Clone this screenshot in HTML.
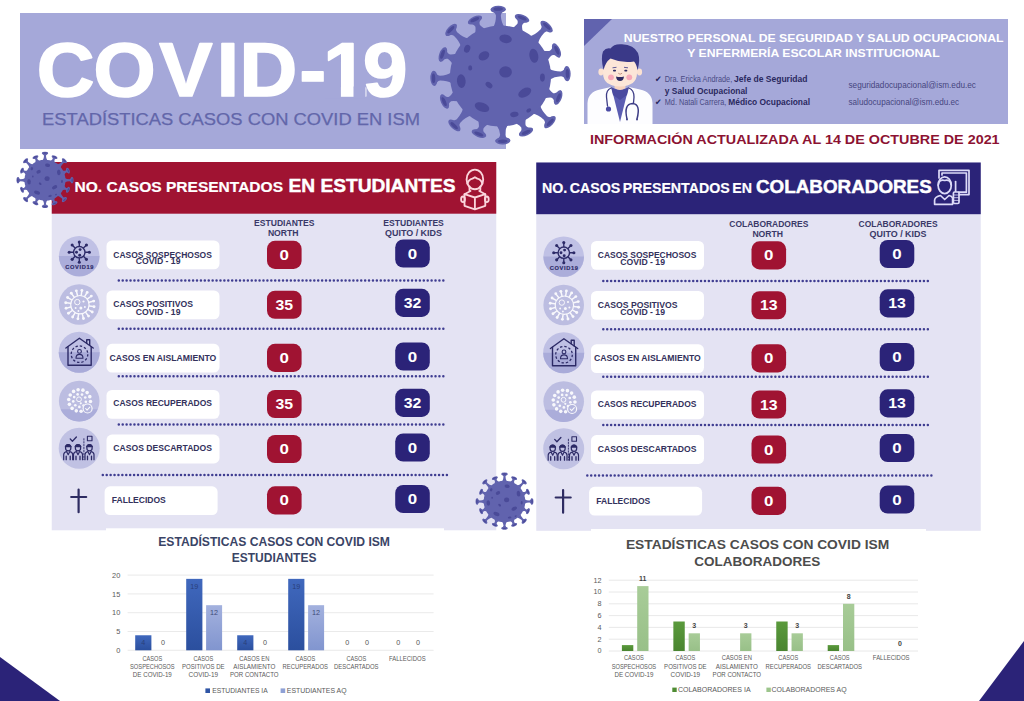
<!DOCTYPE html>
<html lang="es"><head><meta charset="utf-8"><title>COVID-19 Estadísticas casos con COVID en ISM</title>
<style>html,body{margin:0;padding:0;background:#fff;}body{width:1024px;height:701px;overflow:hidden;}svg{display:block;}</style>
</head><body>
<svg width="1024" height="701" viewBox="0 0 1024 701" font-family="'Liberation Sans', sans-serif">
<rect width="1024" height="701" fill="#fff"/>
<rect x="20" y="13" width="486" height="136" fill="#a5a8d9"/>
<g transform="scale(1.06,1)"><text x="34.66 88.15 150.32 204.60 225.86 282.55 304.85 342.40" y="96.5" font-size="75.4" font-weight="bold" fill="#fff" stroke="#fff" stroke-width="1.7" stroke-linejoin="round">COVID-19</text></g>
<rect x="324.5" y="86.6" width="16.4" height="12" fill="#a5a8d9"/><rect x="353.5" y="86.6" width="12" height="12" fill="#a5a8d9"/>
<text x="42.10" y="125.20" font-size="16.86" font-weight="normal" fill="#6266aa" textLength="377.90" lengthAdjust="spacingAndGlyphs" stroke="#6266aa" stroke-width="0.25">ESTADÍSTICAS CASOS CON COVID EN ISM</text>
<g transform="translate(500.50,76.00) rotate(0.0) scale(1.0100)"><g transform="rotate(-2.0)"><path d="M-5.5,-48.5 Q-2.6,-53 -2.4,-59.9 Q-3,-63.4 -7.6,-65.9 L7.6,-65.9 Q3,-63.4 2.4,-59.9 Q2.6,-53 5.5,-48.5 Z" fill="#6163ae"/><ellipse cx="0" cy="-65.9" rx="7.6" ry="3.6" fill="#6163ae"/><ellipse cx="0" cy="-66.3" rx="4.7" ry="1.7" fill="#4a4a98"/></g><g transform="rotate(20.5)"><path d="M-5.5,-48.5 Q-2.6,-53 -2.4,-54.9 Q-3,-58.4 -7.6,-60.9 L7.6,-60.9 Q3,-58.4 2.4,-54.9 Q2.6,-53 5.5,-48.5 Z" fill="#6163ae"/><ellipse cx="0" cy="-60.9" rx="7.6" ry="3.6" fill="#6163ae"/><ellipse cx="0" cy="-61.3" rx="4.7" ry="1.7" fill="#4a4a98"/></g><g transform="rotate(43.0)"><path d="M-5.5,-48.5 Q-2.6,-53 -2.4,-60.9 Q-3,-64.4 -7.6,-66.9 L7.6,-66.9 Q3,-64.4 2.4,-60.9 Q2.6,-53 5.5,-48.5 Z" fill="#6163ae"/><ellipse cx="0" cy="-66.9" rx="7.6" ry="3.6" fill="#6163ae"/><ellipse cx="0" cy="-67.3" rx="4.7" ry="1.7" fill="#4a4a98"/></g><g transform="rotate(65.5)"><path d="M-5.5,-48.5 Q-2.6,-53 -2.4,-54.9 Q-3,-58.4 -7.6,-60.9 L7.6,-60.9 Q3,-58.4 2.4,-54.9 Q2.6,-53 5.5,-48.5 Z" fill="#6163ae"/><ellipse cx="0" cy="-60.9" rx="7.6" ry="3.6" fill="#6163ae"/><ellipse cx="0" cy="-61.3" rx="4.7" ry="1.7" fill="#4a4a98"/></g><g transform="rotate(88.0)"><path d="M-5.5,-48.5 Q-2.6,-53 -2.4,-59.9 Q-3,-63.4 -7.6,-65.9 L7.6,-65.9 Q3,-63.4 2.4,-59.9 Q2.6,-53 5.5,-48.5 Z" fill="#6163ae"/><ellipse cx="0" cy="-65.9" rx="7.6" ry="3.6" fill="#6163ae"/><ellipse cx="0" cy="-66.3" rx="4.7" ry="1.7" fill="#4a4a98"/></g><g transform="rotate(110.5)"><path d="M-5.5,-48.5 Q-2.6,-53 -2.4,-54.9 Q-3,-58.4 -7.6,-60.9 L7.6,-60.9 Q3,-58.4 2.4,-54.9 Q2.6,-53 5.5,-48.5 Z" fill="#6163ae"/><ellipse cx="0" cy="-60.9" rx="7.6" ry="3.6" fill="#6163ae"/><ellipse cx="0" cy="-61.3" rx="4.7" ry="1.7" fill="#4a4a98"/></g><g transform="rotate(133.0)"><path d="M-5.5,-48.5 Q-2.6,-53 -2.4,-60.9 Q-3,-64.4 -7.6,-66.9 L7.6,-66.9 Q3,-64.4 2.4,-60.9 Q2.6,-53 5.5,-48.5 Z" fill="#6163ae"/><ellipse cx="0" cy="-66.9" rx="7.6" ry="3.6" fill="#6163ae"/><ellipse cx="0" cy="-67.3" rx="4.7" ry="1.7" fill="#4a4a98"/></g><g transform="rotate(155.5)"><path d="M-5.5,-48.5 Q-2.6,-53 -2.4,-54.9 Q-3,-58.4 -7.6,-60.9 L7.6,-60.9 Q3,-58.4 2.4,-54.9 Q2.6,-53 5.5,-48.5 Z" fill="#6163ae"/><ellipse cx="0" cy="-60.9" rx="7.6" ry="3.6" fill="#6163ae"/><ellipse cx="0" cy="-61.3" rx="4.7" ry="1.7" fill="#4a4a98"/></g><g transform="rotate(178.0)"><path d="M-5.5,-48.5 Q-2.6,-53 -2.4,-58.2 Q-3,-61.7 -7.6,-64.2 L7.6,-64.2 Q3,-61.7 2.4,-58.2 Q2.6,-53 5.5,-48.5 Z" fill="#6163ae"/><ellipse cx="0" cy="-64.2" rx="7.6" ry="3.6" fill="#6163ae"/><ellipse cx="0" cy="-64.6" rx="4.7" ry="1.7" fill="#4a4a98"/></g><g transform="rotate(200.5)"><path d="M-5.5,-48.5 Q-2.6,-53 -2.4,-54.9 Q-3,-58.4 -7.6,-60.9 L7.6,-60.9 Q3,-58.4 2.4,-54.9 Q2.6,-53 5.5,-48.5 Z" fill="#6163ae"/><ellipse cx="0" cy="-60.9" rx="7.6" ry="3.6" fill="#6163ae"/><ellipse cx="0" cy="-61.3" rx="4.7" ry="1.7" fill="#4a4a98"/></g><g transform="rotate(223.0)"><path d="M-5.5,-48.5 Q-2.6,-53 -2.4,-60.9 Q-3,-64.4 -7.6,-66.9 L7.6,-66.9 Q3,-64.4 2.4,-60.9 Q2.6,-53 5.5,-48.5 Z" fill="#6163ae"/><ellipse cx="0" cy="-66.9" rx="7.6" ry="3.6" fill="#6163ae"/><ellipse cx="0" cy="-67.3" rx="4.7" ry="1.7" fill="#4a4a98"/></g><g transform="rotate(245.5)"><path d="M-5.5,-48.5 Q-2.6,-53 -2.4,-54.9 Q-3,-58.4 -7.6,-60.9 L7.6,-60.9 Q3,-58.4 2.4,-54.9 Q2.6,-53 5.5,-48.5 Z" fill="#6163ae"/><ellipse cx="0" cy="-60.9" rx="7.6" ry="3.6" fill="#6163ae"/><ellipse cx="0" cy="-61.3" rx="4.7" ry="1.7" fill="#4a4a98"/></g><g transform="rotate(268.0)"><path d="M-5.5,-48.5 Q-2.6,-53 -2.4,-59.9 Q-3,-63.4 -7.6,-65.9 L7.6,-65.9 Q3,-63.4 2.4,-59.9 Q2.6,-53 5.5,-48.5 Z" fill="#6163ae"/><ellipse cx="0" cy="-65.9" rx="7.6" ry="3.6" fill="#6163ae"/><ellipse cx="0" cy="-66.3" rx="4.7" ry="1.7" fill="#4a4a98"/></g><g transform="rotate(290.5)"><path d="M-5.5,-48.5 Q-2.6,-53 -2.4,-54.9 Q-3,-58.4 -7.6,-60.9 L7.6,-60.9 Q3,-58.4 2.4,-54.9 Q2.6,-53 5.5,-48.5 Z" fill="#6163ae"/><ellipse cx="0" cy="-60.9" rx="7.6" ry="3.6" fill="#6163ae"/><ellipse cx="0" cy="-61.3" rx="4.7" ry="1.7" fill="#4a4a98"/></g><g transform="rotate(313.0)"><path d="M-5.5,-48.5 Q-2.6,-53 -2.4,-60.9 Q-3,-64.4 -7.6,-66.9 L7.6,-66.9 Q3,-64.4 2.4,-60.9 Q2.6,-53 5.5,-48.5 Z" fill="#6163ae"/><ellipse cx="0" cy="-66.9" rx="7.6" ry="3.6" fill="#6163ae"/><ellipse cx="0" cy="-67.3" rx="4.7" ry="1.7" fill="#4a4a98"/></g><g transform="rotate(335.5)"><path d="M-5.5,-48.5 Q-2.6,-53 -2.4,-54.9 Q-3,-58.4 -7.6,-60.9 L7.6,-60.9 Q3,-58.4 2.4,-54.9 Q2.6,-53 5.5,-48.5 Z" fill="#6163ae"/><ellipse cx="0" cy="-60.9" rx="7.6" ry="3.6" fill="#6163ae"/><ellipse cx="0" cy="-61.3" rx="4.7" ry="1.7" fill="#4a4a98"/></g><circle r="50" fill="#6163ae"/><ellipse cx="5" cy="-36.8" rx="6.2" ry="4.2" fill="#4a4a98" transform="rotate(10 5 -36.8)"/><ellipse cx="-16.4" cy="-20" rx="5.6" ry="4.2" fill="#4a4a98" transform="rotate(-30 -16.4 -20)"/><ellipse cx="-33" cy="-27" rx="3" ry="4" fill="#4a4a98" transform="rotate(20 -33 -27)"/><ellipse cx="33" cy="-20" rx="4.4" ry="7" fill="#4a4a98" transform="rotate(-10 33 -20)"/><ellipse cx="5" cy="-4" rx="6.3" ry="5.6" fill="#4a4a98" transform="rotate(0 5 -4)"/><ellipse cx="-38.8" cy="5" rx="4.3" ry="6.8" fill="#4a4a98" transform="rotate(-5 -38.8 5)"/><ellipse cx="-11.4" cy="9" rx="3.8" ry="2.6" fill="#4a4a98" transform="rotate(40 -11.4 9)"/><ellipse cx="41.5" cy="1.6" rx="2.4" ry="4" fill="#4a4a98" transform="rotate(0 41.5 1.6)"/><ellipse cx="24" cy="16.4" rx="7" ry="4.2" fill="#4a4a98" transform="rotate(-30 24 16.4)"/><ellipse cx="-18.3" cy="30.8" rx="7.5" ry="4.4" fill="#4a4a98" transform="rotate(20 -18.3 30.8)"/><ellipse cx="13.7" cy="38" rx="4.2" ry="2.6" fill="#4a4a98" transform="rotate(-10 13.7 38)"/><ellipse cx="-30" cy="-8" rx="2" ry="2.6" fill="#4a4a98" transform="rotate(0 -30 -8)"/><ellipse cx="28" cy="34" rx="2.6" ry="1.8" fill="#4a4a98" transform="rotate(-30 28 34)"/></g>
<rect x="584" y="19" width="424" height="105" fill="#a5a8d9"/>
<path d="M584,19 L612,19 L584,46 Z" fill="#6163ae"/>
<text x="623.80" y="41.60" font-size="11.48" font-weight="bold" fill="#fff" textLength="379.70" lengthAdjust="spacingAndGlyphs" >NUESTRO PERSONAL DE SEGURIDAD Y SALUD OCUPACIONAL</text>
<text x="687.30" y="57.20" font-size="11.48" font-weight="bold" fill="#fff" textLength="252.30" lengthAdjust="spacingAndGlyphs" >Y ENFERMERÍA ESCOLAR INSTITUCIONAL</text>
<text x="655.00" y="82.00" font-size="8.43" font-weight="normal" fill="#2a2960" textLength="6.50" lengthAdjust="spacingAndGlyphs" font-family="'DejaVu Sans', sans-serif">✔</text>
<text x="664.80" y="82.00" font-size="8.43" font-weight="normal" fill="#4a4b84" textLength="67.40" lengthAdjust="spacingAndGlyphs" >Dra. Ericka Andrade,</text>
<text x="734.10" y="82.00" font-size="8.43" font-weight="bold" fill="#2a2960" textLength="73.30" lengthAdjust="spacingAndGlyphs" >Jefe de Seguridad</text>
<text x="664.80" y="93.75" font-size="8.43" font-weight="bold" fill="#2a2960" textLength="82.60" lengthAdjust="spacingAndGlyphs" >y Salud Ocupacional</text>
<text x="655.00" y="105.00" font-size="8.43" font-weight="normal" fill="#2a2960" textLength="6.50" lengthAdjust="spacingAndGlyphs" font-family="'DejaVu Sans', sans-serif">✔</text>
<text x="664.80" y="105.00" font-size="8.43" font-weight="normal" fill="#4a4b84" textLength="61.50" lengthAdjust="spacingAndGlyphs" >Md. Natali Carrera,</text>
<text x="728.30" y="105.00" font-size="8.43" font-weight="bold" fill="#2a2960" textLength="81.70" lengthAdjust="spacingAndGlyphs" >Médico Ocupacional</text>
<text x="848.50" y="88.10" font-size="8.72" font-weight="normal" fill="#45467f" textLength="127.40" lengthAdjust="spacingAndGlyphs" >seguridadocupacional@ism.edu.ec</text>
<text x="848.50" y="104.50" font-size="8.72" font-weight="normal" fill="#45467f" textLength="110.70" lengthAdjust="spacingAndGlyphs" >saludocupacional@ism.edu.ec</text>
<text x="590.00" y="143.60" font-size="13.52" font-weight="bold" fill="#8c1232" textLength="409.60" lengthAdjust="spacingAndGlyphs" >INFORMACIÓN ACTUALIZADA AL 14 DE OCTUBRE DE 2021</text>
<g id="doctor">
<path d="M587.5,124 L587.5,103 Q588,92 600,89.5 L611,87 L620,96 L629,87 L640,89.5 Q652,92 652.5,103 L652.5,124 Z" fill="#fdfdff"/>
<path d="M611.5,88 L620,122 L628.5,88 Q620,92 611.5,88 Z" fill="#5b5db2"/>
<path d="M611,87 L613,95 L620,100 L627,95 L629,87 Q620,92.5 611,87Z" fill="#4a4aa0"/>
<path d="M614.5,82 L625.5,82 L625.5,88 Q620,92 614.5,88 Z" fill="#f6d3bf"/>
<ellipse cx="601" cy="72" rx="2.6" ry="3.4" fill="#fbe2d2"/><ellipse cx="639.5" cy="72" rx="2.6" ry="3.4" fill="#fbe2d2"/>
<path d="M603,62 Q603,57 620,57 Q637,57 637,62 L637,73 Q637,86 620,86.5 Q603,86 603,73 Z" fill="#fce6d8"/>
<path d="M603.5,70 Q600.5,58 603,51.5 Q606,47.5 610.5,48.5 Q614,43.5 622,44.3 Q634,45 638,53 Q640.5,60 637.5,70 Q636.5,64 634,61.5 Q622,63.5 610.5,58.5 Q605.5,62 603.5,70 Z" fill="#3a3988"/>
<circle cx="611" cy="77.3" r="2.9" fill="#f7a9b8"/><circle cx="629.3" cy="77.3" r="2.9" fill="#f7a9b8"/>
<rect x="613" y="69.8" width="3" height="1.8" rx="0.8" fill="#2d2b62"/><rect x="624.3" y="69.8" width="3" height="1.8" rx="0.8" fill="#2d2b62"/>
<path d="M612.5,67.8 L616.5,67.3 M624,67.3 L628,67.8" stroke="#3a3988" stroke-width="0.8" fill="none"/>
<path d="M618.5,73.5 Q620,75.3 621.8,73.5" stroke="#b98a78" stroke-width="0.9" fill="none" stroke-linecap="round"/>
<path d="M616,76.5 Q620,77.6 624,76.5 Q623.5,81 620,81 Q616.5,81 616,76.5 Z" fill="#2d2b62"/>
<path d="M611,88 Q606,90 606.5,97 L607.5,106" stroke="#3d3c86" stroke-width="1.3" fill="none" stroke-linecap="round"/>
<circle cx="608.5" cy="109" r="2.6" fill="#4b4ba5"/>
<path d="M629,88 Q634,90 634,97 L633.5,103" stroke="#3d3c86" stroke-width="1.3" fill="none" stroke-linecap="round"/>
<path d="M627,119 Q623.5,104 632.5,103.5 Q641,104 637,119" stroke="#3d3c86" stroke-width="1.5" fill="none" stroke-linecap="round"/>
<circle cx="627" cy="119.5" r="0.9" fill="#3d3c86"/><circle cx="637" cy="119.5" r="0.9" fill="#3d3c86"/>
</g>
<g transform="translate(0,0)">
<rect x="51.75" y="162" width="444.5" height="368.3" fill="#e4e3f3"/>
<rect x="51.75" y="162" width="444.5" height="51.7" fill="#a01332"/>
<text x="74.50" y="192.10" font-size="15.55" font-weight="bold" fill="#fff" textLength="208.50" lengthAdjust="spacingAndGlyphs" stroke="#fff" stroke-width="0.2" word-spacing="0">NO. CASOS PRESENTADOS</text>
<text x="288.50" y="192.10" font-size="19.19" font-weight="bold" fill="#fff" textLength="167.00" lengthAdjust="spacingAndGlyphs" stroke="#fff" stroke-width="0.45">EN ESTUDIANTES</text>
<text x="254.05" y="226.00" font-size="8.43" font-weight="bold" fill="#3a3968" textLength="60.50" lengthAdjust="spacingAndGlyphs" >ESTUDIANTES</text>
<text x="267.90" y="236.30" font-size="8.43" font-weight="bold" fill="#3a3968" textLength="30.70" lengthAdjust="spacingAndGlyphs" >NORTH</text>
<text x="383.35" y="226.00" font-size="8.43" font-weight="bold" fill="#3a3968" textLength="60.50" lengthAdjust="spacingAndGlyphs" >ESTUDIANTES</text>
<text x="385.00" y="236.30" font-size="8.43" font-weight="bold" fill="#3a3968" textLength="57.00" lengthAdjust="spacingAndGlyphs" >QUITO / KIDS</text>
<path d="M118.80,280.60 L447.20,280.60" stroke="#3f3d91" stroke-width="2.5" stroke-dasharray="0.01 3.9" stroke-linecap="round" fill="none"/>
<path d="M118.80,328.80 L447.20,328.80" stroke="#3f3d91" stroke-width="2.5" stroke-dasharray="0.01 3.9" stroke-linecap="round" fill="none"/>
<path d="M118.80,376.30 L447.20,376.30" stroke="#3f3d91" stroke-width="2.5" stroke-dasharray="0.01 3.9" stroke-linecap="round" fill="none"/>
<path d="M118.80,424.50 L447.20,424.50" stroke="#3f3d91" stroke-width="2.5" stroke-dasharray="0.01 3.9" stroke-linecap="round" fill="none"/>
<path d="M102.80,475.00 L447.20,475.00" stroke="#3f3d91" stroke-width="2.5" stroke-dasharray="0.01 3.9" stroke-linecap="round" fill="none"/>
<circle cx="79.2" cy="256.2" r="20.3" fill="#c0c1e5"/>
<path d="M58.900000000000006,256.0 A20.3,20.3 0 0 0 99.5,256.0 Z" fill="#abadda"/>
<g stroke="#2d2b68" stroke-width="1.35" fill="none" stroke-linecap="round"><circle cx="79.3" cy="252.2" r="5.7"/><path d="M79.30,246.00 L79.30,243.00"/><circle cx="79.30" cy="242.10" r="1.55" fill="#2d2b68" stroke="none"/><path d="M83.68,247.82 L85.81,245.69"/><circle cx="86.44" cy="245.06" r="1.55" fill="#2d2b68" stroke="none"/><path d="M85.50,252.20 L88.50,252.20"/><circle cx="89.40" cy="252.20" r="1.55" fill="#2d2b68" stroke="none"/><path d="M83.68,256.58 L85.81,258.71"/><circle cx="86.44" cy="259.34" r="1.55" fill="#2d2b68" stroke="none"/><path d="M79.30,258.40 L79.30,261.40"/><circle cx="79.30" cy="262.30" r="1.55" fill="#2d2b68" stroke="none"/><path d="M74.92,256.58 L72.79,258.71"/><circle cx="72.16" cy="259.34" r="1.55" fill="#2d2b68" stroke="none"/><path d="M73.10,252.20 L70.10,252.20"/><circle cx="69.20" cy="252.20" r="1.55" fill="#2d2b68" stroke="none"/><path d="M74.92,247.82 L72.79,245.69"/><circle cx="72.16" cy="245.06" r="1.55" fill="#2d2b68" stroke="none"/><circle cx="80.10" cy="249.60" r="1.45" fill="#2d2b68" stroke="none"/><circle cx="76.50" cy="252.20" r="1.45" fill="#2d2b68" stroke="none"/><circle cx="79.70" cy="255.20" r="1.45" fill="#2d2b68" stroke="none"/></g>
<text x="65.20" y="269.00" font-size="5.7" font-weight="bold" fill="#2d2b68" stroke="#2d2b68" stroke-width="0.18" textLength="28.2" lengthAdjust="spacing">COVID19</text>
<circle cx="79.2" cy="304.5" r="20.3" fill="#bcbde1"/>
<g fill="#fff" stroke="none" opacity="0.9"><path d="M89.41,306.04 L93.37,306.59" stroke="#fff" stroke-width="1.5" stroke-linecap="round"/><circle cx="94.06" cy="306.69" r="1.45"/><path d="M88.17,309.57 L91.62,311.60" stroke="#fff" stroke-width="1.5" stroke-linecap="round"/><circle cx="92.22" cy="311.96" r="1.45"/><path d="M85.68,312.37 L88.08,315.56" stroke="#fff" stroke-width="1.5" stroke-linecap="round"/><circle cx="88.51" cy="316.12" r="1.45"/><path d="M82.30,313.99 L83.31,317.87" stroke="#fff" stroke-width="1.5" stroke-linecap="round"/><circle cx="83.48" cy="318.54" r="1.45"/><path d="M78.56,314.21 L78.01,318.17" stroke="#fff" stroke-width="1.5" stroke-linecap="round"/><circle cx="77.91" cy="318.86" r="1.45"/><path d="M75.03,312.97 L73.00,316.42" stroke="#fff" stroke-width="1.5" stroke-linecap="round"/><circle cx="72.64" cy="317.02" r="1.45"/><path d="M72.23,310.48 L69.04,312.88" stroke="#fff" stroke-width="1.5" stroke-linecap="round"/><circle cx="68.48" cy="313.31" r="1.45"/><path d="M70.61,307.10 L66.73,308.11" stroke="#fff" stroke-width="1.5" stroke-linecap="round"/><circle cx="66.06" cy="308.28" r="1.45"/><path d="M70.39,303.36 L66.43,302.81" stroke="#fff" stroke-width="1.5" stroke-linecap="round"/><circle cx="65.74" cy="302.71" r="1.45"/><path d="M71.63,299.83 L68.18,297.80" stroke="#fff" stroke-width="1.5" stroke-linecap="round"/><circle cx="67.58" cy="297.44" r="1.45"/><path d="M74.12,297.03 L71.72,293.84" stroke="#fff" stroke-width="1.5" stroke-linecap="round"/><circle cx="71.29" cy="293.28" r="1.45"/><path d="M77.50,295.41 L76.49,291.53" stroke="#fff" stroke-width="1.5" stroke-linecap="round"/><circle cx="76.32" cy="290.86" r="1.45"/><path d="M81.24,295.19 L81.79,291.23" stroke="#fff" stroke-width="1.5" stroke-linecap="round"/><circle cx="81.89" cy="290.54" r="1.45"/><path d="M84.77,296.43 L86.80,292.98" stroke="#fff" stroke-width="1.5" stroke-linecap="round"/><circle cx="87.16" cy="292.38" r="1.45"/><path d="M87.57,298.92 L90.76,296.52" stroke="#fff" stroke-width="1.5" stroke-linecap="round"/><circle cx="91.32" cy="296.09" r="1.45"/><path d="M89.19,302.30 L93.07,301.29" stroke="#fff" stroke-width="1.5" stroke-linecap="round"/><circle cx="93.74" cy="301.12" r="1.45"/><circle cx="79.90" cy="304.70" r="9.2" fill="none" stroke="#fff" stroke-width="1.2"/><circle cx="77.30" cy="302.10" r="2.7" fill="none" stroke="#fff" stroke-width="1"/><circle cx="83.50" cy="301.50" r="1.1"/><circle cx="80.90" cy="308.10" r="1.5"/><circle cx="75.60" cy="307.90" r="1.0"/><circle cx="84.90" cy="307.10" r="1.0"/><circle cx="78.40" cy="311.00" r="0.9"/></g>
<circle cx="79.2" cy="352.2" r="20.5" fill="#bfc0e4"/>
<path d="M58.7,352.2 A20.5,20.5 0 0 0 99.7,352.2 Z" fill="#a9abd9"/>
<g stroke="#2c2a66" stroke-width="1.4" fill="none" stroke-linejoin="round" stroke-linecap="round"><path d="M65.90,348.00 L79.40,338.20 L93.20,348.00"/><path d="M68.00,346.70 L68.00,365.20 L91.20,365.20 L91.20,346.70"/><path d="M86.70,343.20 L86.70,339.70 L89.70,339.70 L89.70,345.40"/><circle cx="79.50" cy="354.20" r="8.3" stroke-width="1.25" stroke-dasharray="2.4 1.95" stroke-linecap="butt"/><circle cx="79.50" cy="351.40" r="1.9" stroke-width="1.1"/><path d="M76.00,358.20 Q76.00,354.40 79.50,354.40 Q83.00,354.40 83.00,358.20 Z" stroke-width="1.1"/></g>
<circle cx="79.2" cy="401.1" r="20.3" fill="#bcbde1"/>
<path d="M60.60,409.30 A20.3,20.3 0 0 0 97.80,409.30 Z" fill="#abadda"/>
<g fill="#fff" stroke="none" opacity="0.9"><circle cx="90.46" cy="401.45" r="1.8"/><circle cx="88.97" cy="406.07" r="1.8"/><circle cx="85.63" cy="409.58" r="1.8"/><circle cx="81.09" cy="411.30" r="1.8"/><circle cx="76.26" cy="410.87" r="1.8"/><circle cx="72.09" cy="408.40" r="1.8"/><circle cx="69.40" cy="404.36" r="1.8"/><circle cx="68.74" cy="399.55" r="1.8"/><circle cx="70.23" cy="394.93" r="1.8"/><circle cx="73.57" cy="391.42" r="1.8"/><circle cx="78.11" cy="389.70" r="1.8"/><circle cx="82.94" cy="390.13" r="1.8"/><circle cx="87.11" cy="392.60" r="1.8"/><circle cx="89.80" cy="396.64" r="1.8"/><circle cx="85.86" cy="401.83" r="1.35"/><circle cx="83.54" cy="405.54" r="1.35"/><circle cx="79.38" cy="406.90" r="1.35"/><circle cx="75.32" cy="405.26" r="1.35"/><circle cx="73.26" cy="401.39" r="1.35"/><circle cx="74.17" cy="397.11" r="1.35"/><circle cx="77.62" cy="394.41" r="1.35"/><circle cx="82.00" cy="394.57" r="1.35"/><circle cx="85.25" cy="397.50" r="1.35"/><circle cx="79.00" cy="399.30" r="2.4" fill="none" stroke="#fff" stroke-width="1"/><circle cx="80.80" cy="403.30" r="1.1"/><circle cx="87.60" cy="408.50" r="4.5" stroke="#fff" stroke-width="1.2" fill="#b3b5dd"/><path d="M85.60,408.50 l1.5,1.7 l2.7,-3.1" stroke="#fff" fill="none" stroke-width="1.1" stroke-linecap="round" stroke-linejoin="round"/></g>
<circle cx="79.2" cy="448.2" r="20.5" fill="#c0c1e3"/>
<g stroke="#2c2a66" stroke-width="1.2" fill="none" stroke-linejoin="round" stroke-linecap="round"><ellipse cx="68.20" cy="447.70" rx="2.7" ry="3.2"/><path d="M65.30,446.60 Q68.20,442.60 71.10,446.60 Z" stroke-width="1.1" fill="#2c2a66"/><path d="M63.70,459.70 L63.70,454.50 Q63.90,452.20 66.60,451.50 L68.20,454.70 L69.80,451.50 Q72.50,452.20 72.70,454.50 L72.70,459.70"/><path d="M66.20,456.20 L66.20,459.70 M70.20,456.20 L70.20,459.70" stroke-width="1.3"/><ellipse cx="78.00" cy="447.70" rx="2.7" ry="3.2"/><path d="M75.10,446.60 Q78.00,442.60 80.90,446.60 Z" stroke-width="1.1" fill="#2c2a66"/><path d="M73.50,459.70 L73.50,454.50 Q73.70,452.20 76.40,451.50 L78.00,454.70 L79.60,451.50 Q82.30,452.20 82.50,454.50 L82.50,459.70"/><path d="M76.00,456.20 L76.00,459.70 M80.00,456.20 L80.00,459.70" stroke-width="1.3"/><ellipse cx="89.50" cy="447.70" rx="2.7" ry="3.2"/><path d="M86.60,446.60 Q89.50,442.60 92.40,446.60 Z" stroke-width="1.1" fill="#2c2a66"/><path d="M85.00,459.70 L85.00,454.50 Q85.20,452.20 87.90,451.50 L89.50,454.70 L91.10,451.50 Q93.80,452.20 94.00,454.50 L94.00,459.70"/><path d="M87.50,456.20 L87.50,459.70 M91.50,456.20 L91.50,459.70" stroke-width="1.3"/><path d="M70.20,438.90 l2.2,2.4 l4,-4.3" stroke-width="1.3"/><rect x="87.40" y="436.20" width="4.6" height="4.6" stroke-width="1.1"/><path d="M83.90,438.70 L83.90,459.70" stroke-width="0.9" stroke-dasharray="1.4 1.5"/></g>
<path d="M78.6,489.6 L78.6,512.2 M71.2,497 L86.2,497" stroke="#2e2c62" stroke-width="2.2" stroke-linecap="round" fill="none"/>
<rect x="106.50" y="240.50" width="113" height="28.8" rx="5.5" fill="#fff"/>
<rect x="106.50" y="290.50" width="113" height="28.8" rx="5.5" fill="#fff"/>
<rect x="106.50" y="343.80" width="113" height="28.8" rx="5.5" fill="#fff"/>
<rect x="106.50" y="390.00" width="113" height="28.8" rx="5.5" fill="#fff"/>
<rect x="106.50" y="434.60" width="113" height="28.8" rx="5.5" fill="#fff"/>
<rect x="104.60" y="486.30" width="113" height="28.8" rx="5.5" fill="#fff"/>
<text x="113.30" y="257.70" font-size="9.16" font-weight="bold" fill="#33315c" textLength="98.50" lengthAdjust="spacingAndGlyphs" >CASOS SOSPECHOSOS</text>
<text x="135.80" y="264.40" font-size="9.16" font-weight="bold" fill="#33315c" textLength="44.70" lengthAdjust="spacingAndGlyphs" >COVID - 19</text>
<text x="113.30" y="307.40" font-size="9.16" font-weight="bold" fill="#33315c" textLength="79.70" lengthAdjust="spacingAndGlyphs" >CASOS POSITIVOS</text>
<text x="135.80" y="314.90" font-size="9.16" font-weight="bold" fill="#33315c" textLength="44.70" lengthAdjust="spacingAndGlyphs" >COVID - 19</text>
<text x="109.60" y="360.70" font-size="9.16" font-weight="bold" fill="#33315c" textLength="106.70" lengthAdjust="spacingAndGlyphs" >CASOS EN AISLAMIENTO</text>
<text x="113.30" y="406.40" font-size="9.16" font-weight="bold" fill="#33315c" textLength="98.70" lengthAdjust="spacingAndGlyphs" >CASOS RECUPERADOS</text>
<text x="113.30" y="451.40" font-size="9.16" font-weight="bold" fill="#33315c" textLength="98.70" lengthAdjust="spacingAndGlyphs" >CASOS DESCARTADOS</text>
<text x="111.80" y="503.20" font-size="9.16" font-weight="bold" fill="#33315c" textLength="54.00" lengthAdjust="spacingAndGlyphs" >FALLECIDOS</text>
<rect x="267.00" y="240.80" width="34.60" height="28.10" rx="8" fill="#a01332"/>
<text x="284.30" y="259.95" font-size="14.00" font-weight="bold" fill="#fff" text-anchor="middle" textLength="9.40" lengthAdjust="spacingAndGlyphs" >0</text>
<rect x="395.20" y="239.40" width="34.60" height="28.10" rx="8" fill="#2b2378"/>
<text x="412.50" y="258.55" font-size="14.00" font-weight="bold" fill="#fff" text-anchor="middle" textLength="9.40" lengthAdjust="spacingAndGlyphs" >0</text>
<rect x="267.00" y="290.70" width="34.60" height="28.10" rx="8" fill="#a01332"/>
<text x="284.30" y="309.85" font-size="14.00" font-weight="bold" fill="#fff" text-anchor="middle" textLength="17.60" lengthAdjust="spacingAndGlyphs" >35</text>
<rect x="395.20" y="288.80" width="34.60" height="28.10" rx="8" fill="#2b2378"/>
<text x="412.50" y="307.95" font-size="14.00" font-weight="bold" fill="#fff" text-anchor="middle" textLength="17.60" lengthAdjust="spacingAndGlyphs" >32</text>
<rect x="267.00" y="343.80" width="34.60" height="28.10" rx="8" fill="#a01332"/>
<text x="284.30" y="362.95" font-size="14.00" font-weight="bold" fill="#fff" text-anchor="middle" textLength="9.40" lengthAdjust="spacingAndGlyphs" >0</text>
<rect x="395.20" y="342.50" width="34.60" height="28.10" rx="8" fill="#2b2378"/>
<text x="412.50" y="361.65" font-size="14.00" font-weight="bold" fill="#fff" text-anchor="middle" textLength="9.40" lengthAdjust="spacingAndGlyphs" >0</text>
<rect x="267.00" y="390.00" width="34.60" height="28.10" rx="8" fill="#a01332"/>
<text x="284.30" y="409.15" font-size="14.00" font-weight="bold" fill="#fff" text-anchor="middle" textLength="17.60" lengthAdjust="spacingAndGlyphs" >35</text>
<rect x="395.20" y="388.80" width="34.60" height="28.10" rx="8" fill="#2b2378"/>
<text x="412.50" y="407.95" font-size="14.00" font-weight="bold" fill="#fff" text-anchor="middle" textLength="17.60" lengthAdjust="spacingAndGlyphs" >32</text>
<rect x="267.00" y="434.90" width="34.60" height="28.10" rx="8" fill="#a01332"/>
<text x="284.30" y="454.05" font-size="14.00" font-weight="bold" fill="#fff" text-anchor="middle" textLength="9.40" lengthAdjust="spacingAndGlyphs" >0</text>
<rect x="395.20" y="433.40" width="34.60" height="28.10" rx="8" fill="#2b2378"/>
<text x="412.50" y="452.55" font-size="14.00" font-weight="bold" fill="#fff" text-anchor="middle" textLength="9.40" lengthAdjust="spacingAndGlyphs" >0</text>
<rect x="267.00" y="486.30" width="34.60" height="28.10" rx="8" fill="#a01332"/>
<text x="284.30" y="505.45" font-size="14.00" font-weight="bold" fill="#fff" text-anchor="middle" textLength="9.40" lengthAdjust="spacingAndGlyphs" >0</text>
<rect x="395.20" y="485.00" width="34.60" height="28.10" rx="8" fill="#2b2378"/>
<text x="412.50" y="504.15" font-size="14.00" font-weight="bold" fill="#fff" text-anchor="middle" textLength="9.40" lengthAdjust="spacingAndGlyphs" >0</text>
</g>
<g transform="translate(484.5,0.5)">
<rect x="51.75" y="162" width="444.5" height="368.3" fill="#e4e3f3"/>
<rect x="51.75" y="162" width="444.5" height="51.7" fill="#2b2378"/>
<text x="57.50" y="192.10" font-size="15.55" font-weight="bold" fill="#fff" textLength="210.00" lengthAdjust="spacingAndGlyphs" stroke="#fff" stroke-width="0.2" word-spacing="-1.6">NO. CASOS PRESENTADOS EN</text>
<text x="271.50" y="192.10" font-size="18.02" font-weight="bold" fill="#fff" textLength="175.75" lengthAdjust="spacingAndGlyphs" stroke="#fff" stroke-width="0.45">COLABORADORES</text>
<text x="244.80" y="226.00" font-size="8.43" font-weight="bold" fill="#3a3968" textLength="79.00" lengthAdjust="spacingAndGlyphs" >COLABORADORES</text>
<text x="267.90" y="236.30" font-size="8.43" font-weight="bold" fill="#3a3968" textLength="30.70" lengthAdjust="spacingAndGlyphs" >NORTH</text>
<text x="374.10" y="226.00" font-size="8.43" font-weight="bold" fill="#3a3968" textLength="79.00" lengthAdjust="spacingAndGlyphs" >COLABORADORES</text>
<text x="385.00" y="236.30" font-size="8.43" font-weight="bold" fill="#3a3968" textLength="57.00" lengthAdjust="spacingAndGlyphs" >QUITO / KIDS</text>
<path d="M118.80,280.60 L447.20,280.60" stroke="#3f3d91" stroke-width="2.5" stroke-dasharray="0.01 3.9" stroke-linecap="round" fill="none"/>
<path d="M118.80,328.80 L447.20,328.80" stroke="#3f3d91" stroke-width="2.5" stroke-dasharray="0.01 3.9" stroke-linecap="round" fill="none"/>
<path d="M118.80,376.30 L447.20,376.30" stroke="#3f3d91" stroke-width="2.5" stroke-dasharray="0.01 3.9" stroke-linecap="round" fill="none"/>
<path d="M118.80,424.50 L447.20,424.50" stroke="#3f3d91" stroke-width="2.5" stroke-dasharray="0.01 3.9" stroke-linecap="round" fill="none"/>
<path d="M102.80,475.00 L447.20,475.00" stroke="#3f3d91" stroke-width="2.5" stroke-dasharray="0.01 3.9" stroke-linecap="round" fill="none"/>
<circle cx="79.2" cy="256.2" r="20.3" fill="#c0c1e5"/>
<path d="M58.900000000000006,256.0 A20.3,20.3 0 0 0 99.5,256.0 Z" fill="#abadda"/>
<g stroke="#2d2b68" stroke-width="1.35" fill="none" stroke-linecap="round"><circle cx="79.3" cy="252.2" r="5.7"/><path d="M79.30,246.00 L79.30,243.00"/><circle cx="79.30" cy="242.10" r="1.55" fill="#2d2b68" stroke="none"/><path d="M83.68,247.82 L85.81,245.69"/><circle cx="86.44" cy="245.06" r="1.55" fill="#2d2b68" stroke="none"/><path d="M85.50,252.20 L88.50,252.20"/><circle cx="89.40" cy="252.20" r="1.55" fill="#2d2b68" stroke="none"/><path d="M83.68,256.58 L85.81,258.71"/><circle cx="86.44" cy="259.34" r="1.55" fill="#2d2b68" stroke="none"/><path d="M79.30,258.40 L79.30,261.40"/><circle cx="79.30" cy="262.30" r="1.55" fill="#2d2b68" stroke="none"/><path d="M74.92,256.58 L72.79,258.71"/><circle cx="72.16" cy="259.34" r="1.55" fill="#2d2b68" stroke="none"/><path d="M73.10,252.20 L70.10,252.20"/><circle cx="69.20" cy="252.20" r="1.55" fill="#2d2b68" stroke="none"/><path d="M74.92,247.82 L72.79,245.69"/><circle cx="72.16" cy="245.06" r="1.55" fill="#2d2b68" stroke="none"/><circle cx="80.10" cy="249.60" r="1.45" fill="#2d2b68" stroke="none"/><circle cx="76.50" cy="252.20" r="1.45" fill="#2d2b68" stroke="none"/><circle cx="79.70" cy="255.20" r="1.45" fill="#2d2b68" stroke="none"/></g>
<text x="65.20" y="269.00" font-size="5.7" font-weight="bold" fill="#2d2b68" stroke="#2d2b68" stroke-width="0.18" textLength="28.2" lengthAdjust="spacing">COVID19</text>
<circle cx="79.2" cy="304.5" r="20.3" fill="#bcbde1"/>
<g fill="#fff" stroke="none" opacity="0.9"><path d="M89.41,306.04 L93.37,306.59" stroke="#fff" stroke-width="1.5" stroke-linecap="round"/><circle cx="94.06" cy="306.69" r="1.45"/><path d="M88.17,309.57 L91.62,311.60" stroke="#fff" stroke-width="1.5" stroke-linecap="round"/><circle cx="92.22" cy="311.96" r="1.45"/><path d="M85.68,312.37 L88.08,315.56" stroke="#fff" stroke-width="1.5" stroke-linecap="round"/><circle cx="88.51" cy="316.12" r="1.45"/><path d="M82.30,313.99 L83.31,317.87" stroke="#fff" stroke-width="1.5" stroke-linecap="round"/><circle cx="83.48" cy="318.54" r="1.45"/><path d="M78.56,314.21 L78.01,318.17" stroke="#fff" stroke-width="1.5" stroke-linecap="round"/><circle cx="77.91" cy="318.86" r="1.45"/><path d="M75.03,312.97 L73.00,316.42" stroke="#fff" stroke-width="1.5" stroke-linecap="round"/><circle cx="72.64" cy="317.02" r="1.45"/><path d="M72.23,310.48 L69.04,312.88" stroke="#fff" stroke-width="1.5" stroke-linecap="round"/><circle cx="68.48" cy="313.31" r="1.45"/><path d="M70.61,307.10 L66.73,308.11" stroke="#fff" stroke-width="1.5" stroke-linecap="round"/><circle cx="66.06" cy="308.28" r="1.45"/><path d="M70.39,303.36 L66.43,302.81" stroke="#fff" stroke-width="1.5" stroke-linecap="round"/><circle cx="65.74" cy="302.71" r="1.45"/><path d="M71.63,299.83 L68.18,297.80" stroke="#fff" stroke-width="1.5" stroke-linecap="round"/><circle cx="67.58" cy="297.44" r="1.45"/><path d="M74.12,297.03 L71.72,293.84" stroke="#fff" stroke-width="1.5" stroke-linecap="round"/><circle cx="71.29" cy="293.28" r="1.45"/><path d="M77.50,295.41 L76.49,291.53" stroke="#fff" stroke-width="1.5" stroke-linecap="round"/><circle cx="76.32" cy="290.86" r="1.45"/><path d="M81.24,295.19 L81.79,291.23" stroke="#fff" stroke-width="1.5" stroke-linecap="round"/><circle cx="81.89" cy="290.54" r="1.45"/><path d="M84.77,296.43 L86.80,292.98" stroke="#fff" stroke-width="1.5" stroke-linecap="round"/><circle cx="87.16" cy="292.38" r="1.45"/><path d="M87.57,298.92 L90.76,296.52" stroke="#fff" stroke-width="1.5" stroke-linecap="round"/><circle cx="91.32" cy="296.09" r="1.45"/><path d="M89.19,302.30 L93.07,301.29" stroke="#fff" stroke-width="1.5" stroke-linecap="round"/><circle cx="93.74" cy="301.12" r="1.45"/><circle cx="79.90" cy="304.70" r="9.2" fill="none" stroke="#fff" stroke-width="1.2"/><circle cx="77.30" cy="302.10" r="2.7" fill="none" stroke="#fff" stroke-width="1"/><circle cx="83.50" cy="301.50" r="1.1"/><circle cx="80.90" cy="308.10" r="1.5"/><circle cx="75.60" cy="307.90" r="1.0"/><circle cx="84.90" cy="307.10" r="1.0"/><circle cx="78.40" cy="311.00" r="0.9"/></g>
<circle cx="79.2" cy="352.2" r="20.5" fill="#bfc0e4"/>
<path d="M58.7,352.2 A20.5,20.5 0 0 0 99.7,352.2 Z" fill="#a9abd9"/>
<g stroke="#2c2a66" stroke-width="1.4" fill="none" stroke-linejoin="round" stroke-linecap="round"><path d="M65.90,348.00 L79.40,338.20 L93.20,348.00"/><path d="M68.00,346.70 L68.00,365.20 L91.20,365.20 L91.20,346.70"/><path d="M86.70,343.20 L86.70,339.70 L89.70,339.70 L89.70,345.40"/><circle cx="79.50" cy="354.20" r="8.3" stroke-width="1.25" stroke-dasharray="2.4 1.95" stroke-linecap="butt"/><circle cx="79.50" cy="351.40" r="1.9" stroke-width="1.1"/><path d="M76.00,358.20 Q76.00,354.40 79.50,354.40 Q83.00,354.40 83.00,358.20 Z" stroke-width="1.1"/></g>
<circle cx="79.2" cy="401.1" r="20.3" fill="#bcbde1"/>
<path d="M60.60,409.30 A20.3,20.3 0 0 0 97.80,409.30 Z" fill="#abadda"/>
<g fill="#fff" stroke="none" opacity="0.9"><circle cx="90.46" cy="401.45" r="1.8"/><circle cx="88.97" cy="406.07" r="1.8"/><circle cx="85.63" cy="409.58" r="1.8"/><circle cx="81.09" cy="411.30" r="1.8"/><circle cx="76.26" cy="410.87" r="1.8"/><circle cx="72.09" cy="408.40" r="1.8"/><circle cx="69.40" cy="404.36" r="1.8"/><circle cx="68.74" cy="399.55" r="1.8"/><circle cx="70.23" cy="394.93" r="1.8"/><circle cx="73.57" cy="391.42" r="1.8"/><circle cx="78.11" cy="389.70" r="1.8"/><circle cx="82.94" cy="390.13" r="1.8"/><circle cx="87.11" cy="392.60" r="1.8"/><circle cx="89.80" cy="396.64" r="1.8"/><circle cx="85.86" cy="401.83" r="1.35"/><circle cx="83.54" cy="405.54" r="1.35"/><circle cx="79.38" cy="406.90" r="1.35"/><circle cx="75.32" cy="405.26" r="1.35"/><circle cx="73.26" cy="401.39" r="1.35"/><circle cx="74.17" cy="397.11" r="1.35"/><circle cx="77.62" cy="394.41" r="1.35"/><circle cx="82.00" cy="394.57" r="1.35"/><circle cx="85.25" cy="397.50" r="1.35"/><circle cx="79.00" cy="399.30" r="2.4" fill="none" stroke="#fff" stroke-width="1"/><circle cx="80.80" cy="403.30" r="1.1"/><circle cx="87.60" cy="408.50" r="4.5" stroke="#fff" stroke-width="1.2" fill="#b3b5dd"/><path d="M85.60,408.50 l1.5,1.7 l2.7,-3.1" stroke="#fff" fill="none" stroke-width="1.1" stroke-linecap="round" stroke-linejoin="round"/></g>
<circle cx="79.2" cy="448.2" r="20.5" fill="#c0c1e3"/>
<g stroke="#2c2a66" stroke-width="1.2" fill="none" stroke-linejoin="round" stroke-linecap="round"><ellipse cx="68.20" cy="447.70" rx="2.7" ry="3.2"/><path d="M65.30,446.60 Q68.20,442.60 71.10,446.60 Z" stroke-width="1.1" fill="#2c2a66"/><path d="M63.70,459.70 L63.70,454.50 Q63.90,452.20 66.60,451.50 L68.20,454.70 L69.80,451.50 Q72.50,452.20 72.70,454.50 L72.70,459.70"/><path d="M66.20,456.20 L66.20,459.70 M70.20,456.20 L70.20,459.70" stroke-width="1.3"/><ellipse cx="78.00" cy="447.70" rx="2.7" ry="3.2"/><path d="M75.10,446.60 Q78.00,442.60 80.90,446.60 Z" stroke-width="1.1" fill="#2c2a66"/><path d="M73.50,459.70 L73.50,454.50 Q73.70,452.20 76.40,451.50 L78.00,454.70 L79.60,451.50 Q82.30,452.20 82.50,454.50 L82.50,459.70"/><path d="M76.00,456.20 L76.00,459.70 M80.00,456.20 L80.00,459.70" stroke-width="1.3"/><ellipse cx="89.50" cy="447.70" rx="2.7" ry="3.2"/><path d="M86.60,446.60 Q89.50,442.60 92.40,446.60 Z" stroke-width="1.1" fill="#2c2a66"/><path d="M85.00,459.70 L85.00,454.50 Q85.20,452.20 87.90,451.50 L89.50,454.70 L91.10,451.50 Q93.80,452.20 94.00,454.50 L94.00,459.70"/><path d="M87.50,456.20 L87.50,459.70 M91.50,456.20 L91.50,459.70" stroke-width="1.3"/><path d="M70.20,438.90 l2.2,2.4 l4,-4.3" stroke-width="1.3"/><rect x="87.40" y="436.20" width="4.6" height="4.6" stroke-width="1.1"/><path d="M83.90,438.70 L83.90,459.70" stroke-width="0.9" stroke-dasharray="1.4 1.5"/></g>
<path d="M78.6,489.6 L78.6,512.2 M71.2,497 L86.2,497" stroke="#2e2c62" stroke-width="2.2" stroke-linecap="round" fill="none"/>
<rect x="106.50" y="240.50" width="113" height="28.8" rx="5.5" fill="#fff"/>
<rect x="106.50" y="290.50" width="113" height="28.8" rx="5.5" fill="#fff"/>
<rect x="106.50" y="343.80" width="113" height="28.8" rx="5.5" fill="#fff"/>
<rect x="106.50" y="390.00" width="113" height="28.8" rx="5.5" fill="#fff"/>
<rect x="106.50" y="434.60" width="113" height="28.8" rx="5.5" fill="#fff"/>
<rect x="104.60" y="486.30" width="113" height="28.8" rx="5.5" fill="#fff"/>
<text x="113.30" y="257.70" font-size="9.16" font-weight="bold" fill="#33315c" textLength="98.50" lengthAdjust="spacingAndGlyphs" >CASOS SOSPECHOSOS</text>
<text x="135.80" y="264.40" font-size="9.16" font-weight="bold" fill="#33315c" textLength="44.70" lengthAdjust="spacingAndGlyphs" >COVID - 19</text>
<text x="113.30" y="307.40" font-size="9.16" font-weight="bold" fill="#33315c" textLength="79.70" lengthAdjust="spacingAndGlyphs" >CASOS POSITIVOS</text>
<text x="135.80" y="314.90" font-size="9.16" font-weight="bold" fill="#33315c" textLength="44.70" lengthAdjust="spacingAndGlyphs" >COVID - 19</text>
<text x="109.60" y="360.70" font-size="9.16" font-weight="bold" fill="#33315c" textLength="106.70" lengthAdjust="spacingAndGlyphs" >CASOS EN AISLAMIENTO</text>
<text x="113.30" y="406.40" font-size="9.16" font-weight="bold" fill="#33315c" textLength="98.70" lengthAdjust="spacingAndGlyphs" >CASOS RECUPERADOS</text>
<text x="113.30" y="451.40" font-size="9.16" font-weight="bold" fill="#33315c" textLength="98.70" lengthAdjust="spacingAndGlyphs" >CASOS DESCARTADOS</text>
<text x="111.80" y="503.20" font-size="9.16" font-weight="bold" fill="#33315c" textLength="54.00" lengthAdjust="spacingAndGlyphs" >FALLECIDOS</text>
<rect x="267.00" y="240.80" width="34.60" height="28.10" rx="8" fill="#a01332"/>
<text x="284.30" y="259.95" font-size="14.00" font-weight="bold" fill="#fff" text-anchor="middle" textLength="9.40" lengthAdjust="spacingAndGlyphs" >0</text>
<rect x="395.20" y="239.40" width="34.60" height="28.10" rx="8" fill="#2b2378"/>
<text x="412.50" y="258.55" font-size="14.00" font-weight="bold" fill="#fff" text-anchor="middle" textLength="9.40" lengthAdjust="spacingAndGlyphs" >0</text>
<rect x="267.00" y="290.70" width="34.60" height="28.10" rx="8" fill="#a01332"/>
<text x="284.30" y="309.85" font-size="14.00" font-weight="bold" fill="#fff" text-anchor="middle" textLength="17.60" lengthAdjust="spacingAndGlyphs" >13</text>
<rect x="395.20" y="288.80" width="34.60" height="28.10" rx="8" fill="#2b2378"/>
<text x="412.50" y="307.95" font-size="14.00" font-weight="bold" fill="#fff" text-anchor="middle" textLength="17.60" lengthAdjust="spacingAndGlyphs" >13</text>
<rect x="267.00" y="343.80" width="34.60" height="28.10" rx="8" fill="#a01332"/>
<text x="284.30" y="362.95" font-size="14.00" font-weight="bold" fill="#fff" text-anchor="middle" textLength="9.40" lengthAdjust="spacingAndGlyphs" >0</text>
<rect x="395.20" y="342.50" width="34.60" height="28.10" rx="8" fill="#2b2378"/>
<text x="412.50" y="361.65" font-size="14.00" font-weight="bold" fill="#fff" text-anchor="middle" textLength="9.40" lengthAdjust="spacingAndGlyphs" >0</text>
<rect x="267.00" y="390.00" width="34.60" height="28.10" rx="8" fill="#a01332"/>
<text x="284.30" y="409.15" font-size="14.00" font-weight="bold" fill="#fff" text-anchor="middle" textLength="17.60" lengthAdjust="spacingAndGlyphs" >13</text>
<rect x="395.20" y="388.80" width="34.60" height="28.10" rx="8" fill="#2b2378"/>
<text x="412.50" y="407.95" font-size="14.00" font-weight="bold" fill="#fff" text-anchor="middle" textLength="17.60" lengthAdjust="spacingAndGlyphs" >13</text>
<rect x="267.00" y="434.90" width="34.60" height="28.10" rx="8" fill="#a01332"/>
<text x="284.30" y="454.05" font-size="14.00" font-weight="bold" fill="#fff" text-anchor="middle" textLength="9.40" lengthAdjust="spacingAndGlyphs" >0</text>
<rect x="395.20" y="433.40" width="34.60" height="28.10" rx="8" fill="#2b2378"/>
<text x="412.50" y="452.55" font-size="14.00" font-weight="bold" fill="#fff" text-anchor="middle" textLength="9.40" lengthAdjust="spacingAndGlyphs" >0</text>
<rect x="267.00" y="486.30" width="34.60" height="28.10" rx="8" fill="#a01332"/>
<text x="284.30" y="505.45" font-size="14.00" font-weight="bold" fill="#fff" text-anchor="middle" textLength="9.40" lengthAdjust="spacingAndGlyphs" >0</text>
<rect x="395.20" y="485.00" width="34.60" height="28.10" rx="8" fill="#2b2378"/>
<text x="412.50" y="504.15" font-size="14.00" font-weight="bold" fill="#fff" text-anchor="middle" textLength="9.40" lengthAdjust="spacingAndGlyphs" >0</text>
</g>
<g stroke="#fad5dc" stroke-width="1.85" fill="none" stroke-linejoin="round" stroke-linecap="round">
<ellipse cx="474.9" cy="179.4" rx="8.3" ry="9.8"/>
<path d="M467.6,183.5 Q468.4,179.5 472.5,178.6 L474.9,177.2 L477.3,178.6 Q481.4,179.5 482.2,183.5" />
<path d="M469.5,186.5 L469.5,190.5 M480.3,186.5 L480.3,190.5"/>
<path d="M464.5,194.2 L474.9,197.5 L485.3,194.2 L485.3,205.8 L474.9,209.3 L464.5,205.8 Z M474.9,197.5 L474.9,209.3"/>
<path d="M464.5,194.2 L470.5,191 M485.3,194.2 L479.3,191"/>
<ellipse cx="463" cy="199.3" rx="1.9" ry="2.8"/><ellipse cx="486.8" cy="199.3" rx="1.9" ry="2.8"/>
</g>
<g stroke="#dddbf8" stroke-width="1.7" fill="none" stroke-linejoin="round" stroke-linecap="round">
<path d="M939,178 L939,170.3 L969,170.3 L969,194.6 L958.5,194.6"/>
<path d="M942,175 L942,173 L966.4,173 L966.4,192.2 L958.5,192.2"/>
<ellipse cx="944.7" cy="185.2" rx="6.6" ry="8.4" fill="#2b2378"/>
<path d="M938.3,185 Q939,179 944.7,180.5 Q950.4,179 951.1,185"/>
<path d="M934.6,204.3 L934.6,200 Q935,196.8 940.5,195.5 L944.7,199.5 L949,195.5 Q952,196 952.6,198 L952.6,204.3 Z"/>
<path d="M955.6,181.5 L955.6,192"/>
<rect x="953.4" y="192" width="5.6" height="11.5" rx="1.2" fill="#2b2378"/>
<path d="M953.4,195 L959,195 M953.4,197.7 L959,197.7 M953.4,200.4 L959,200.4" stroke-width="0.8"/>
</g>
<g transform="translate(45.00,180.20) rotate(2) scale(0.4100)"><g transform="rotate(-2.0)"><path d="M-5.5,-48.5 Q-2.6,-53 -2.4,-59.9 Q-3,-63.4 -7.6,-65.9 L7.6,-65.9 Q3,-63.4 2.4,-59.9 Q2.6,-53 5.5,-48.5 Z" fill="#6163ae"/><ellipse cx="0" cy="-65.9" rx="7.6" ry="3.6" fill="#6163ae"/><ellipse cx="0" cy="-66.3" rx="4.7" ry="1.7" fill="#4a4a98"/></g><g transform="rotate(20.5)"><path d="M-5.5,-48.5 Q-2.6,-53 -2.4,-54.9 Q-3,-58.4 -7.6,-60.9 L7.6,-60.9 Q3,-58.4 2.4,-54.9 Q2.6,-53 5.5,-48.5 Z" fill="#6163ae"/><ellipse cx="0" cy="-60.9" rx="7.6" ry="3.6" fill="#6163ae"/><ellipse cx="0" cy="-61.3" rx="4.7" ry="1.7" fill="#4a4a98"/></g><g transform="rotate(43.0)"><path d="M-5.5,-48.5 Q-2.6,-53 -2.4,-60.9 Q-3,-64.4 -7.6,-66.9 L7.6,-66.9 Q3,-64.4 2.4,-60.9 Q2.6,-53 5.5,-48.5 Z" fill="#6163ae"/><ellipse cx="0" cy="-66.9" rx="7.6" ry="3.6" fill="#6163ae"/><ellipse cx="0" cy="-67.3" rx="4.7" ry="1.7" fill="#4a4a98"/></g><g transform="rotate(65.5)"><path d="M-5.5,-48.5 Q-2.6,-53 -2.4,-54.9 Q-3,-58.4 -7.6,-60.9 L7.6,-60.9 Q3,-58.4 2.4,-54.9 Q2.6,-53 5.5,-48.5 Z" fill="#6163ae"/><ellipse cx="0" cy="-60.9" rx="7.6" ry="3.6" fill="#6163ae"/><ellipse cx="0" cy="-61.3" rx="4.7" ry="1.7" fill="#4a4a98"/></g><g transform="rotate(88.0)"><path d="M-5.5,-48.5 Q-2.6,-53 -2.4,-59.9 Q-3,-63.4 -7.6,-65.9 L7.6,-65.9 Q3,-63.4 2.4,-59.9 Q2.6,-53 5.5,-48.5 Z" fill="#6163ae"/><ellipse cx="0" cy="-65.9" rx="7.6" ry="3.6" fill="#6163ae"/><ellipse cx="0" cy="-66.3" rx="4.7" ry="1.7" fill="#4a4a98"/></g><g transform="rotate(110.5)"><path d="M-5.5,-48.5 Q-2.6,-53 -2.4,-54.9 Q-3,-58.4 -7.6,-60.9 L7.6,-60.9 Q3,-58.4 2.4,-54.9 Q2.6,-53 5.5,-48.5 Z" fill="#6163ae"/><ellipse cx="0" cy="-60.9" rx="7.6" ry="3.6" fill="#6163ae"/><ellipse cx="0" cy="-61.3" rx="4.7" ry="1.7" fill="#4a4a98"/></g><g transform="rotate(133.0)"><path d="M-5.5,-48.5 Q-2.6,-53 -2.4,-60.9 Q-3,-64.4 -7.6,-66.9 L7.6,-66.9 Q3,-64.4 2.4,-60.9 Q2.6,-53 5.5,-48.5 Z" fill="#6163ae"/><ellipse cx="0" cy="-66.9" rx="7.6" ry="3.6" fill="#6163ae"/><ellipse cx="0" cy="-67.3" rx="4.7" ry="1.7" fill="#4a4a98"/></g><g transform="rotate(155.5)"><path d="M-5.5,-48.5 Q-2.6,-53 -2.4,-54.9 Q-3,-58.4 -7.6,-60.9 L7.6,-60.9 Q3,-58.4 2.4,-54.9 Q2.6,-53 5.5,-48.5 Z" fill="#6163ae"/><ellipse cx="0" cy="-60.9" rx="7.6" ry="3.6" fill="#6163ae"/><ellipse cx="0" cy="-61.3" rx="4.7" ry="1.7" fill="#4a4a98"/></g><g transform="rotate(178.0)"><path d="M-5.5,-48.5 Q-2.6,-53 -2.4,-58.2 Q-3,-61.7 -7.6,-64.2 L7.6,-64.2 Q3,-61.7 2.4,-58.2 Q2.6,-53 5.5,-48.5 Z" fill="#6163ae"/><ellipse cx="0" cy="-64.2" rx="7.6" ry="3.6" fill="#6163ae"/><ellipse cx="0" cy="-64.6" rx="4.7" ry="1.7" fill="#4a4a98"/></g><g transform="rotate(200.5)"><path d="M-5.5,-48.5 Q-2.6,-53 -2.4,-54.9 Q-3,-58.4 -7.6,-60.9 L7.6,-60.9 Q3,-58.4 2.4,-54.9 Q2.6,-53 5.5,-48.5 Z" fill="#6163ae"/><ellipse cx="0" cy="-60.9" rx="7.6" ry="3.6" fill="#6163ae"/><ellipse cx="0" cy="-61.3" rx="4.7" ry="1.7" fill="#4a4a98"/></g><g transform="rotate(223.0)"><path d="M-5.5,-48.5 Q-2.6,-53 -2.4,-60.9 Q-3,-64.4 -7.6,-66.9 L7.6,-66.9 Q3,-64.4 2.4,-60.9 Q2.6,-53 5.5,-48.5 Z" fill="#6163ae"/><ellipse cx="0" cy="-66.9" rx="7.6" ry="3.6" fill="#6163ae"/><ellipse cx="0" cy="-67.3" rx="4.7" ry="1.7" fill="#4a4a98"/></g><g transform="rotate(245.5)"><path d="M-5.5,-48.5 Q-2.6,-53 -2.4,-54.9 Q-3,-58.4 -7.6,-60.9 L7.6,-60.9 Q3,-58.4 2.4,-54.9 Q2.6,-53 5.5,-48.5 Z" fill="#6163ae"/><ellipse cx="0" cy="-60.9" rx="7.6" ry="3.6" fill="#6163ae"/><ellipse cx="0" cy="-61.3" rx="4.7" ry="1.7" fill="#4a4a98"/></g><g transform="rotate(268.0)"><path d="M-5.5,-48.5 Q-2.6,-53 -2.4,-59.9 Q-3,-63.4 -7.6,-65.9 L7.6,-65.9 Q3,-63.4 2.4,-59.9 Q2.6,-53 5.5,-48.5 Z" fill="#6163ae"/><ellipse cx="0" cy="-65.9" rx="7.6" ry="3.6" fill="#6163ae"/><ellipse cx="0" cy="-66.3" rx="4.7" ry="1.7" fill="#4a4a98"/></g><g transform="rotate(290.5)"><path d="M-5.5,-48.5 Q-2.6,-53 -2.4,-54.9 Q-3,-58.4 -7.6,-60.9 L7.6,-60.9 Q3,-58.4 2.4,-54.9 Q2.6,-53 5.5,-48.5 Z" fill="#6163ae"/><ellipse cx="0" cy="-60.9" rx="7.6" ry="3.6" fill="#6163ae"/><ellipse cx="0" cy="-61.3" rx="4.7" ry="1.7" fill="#4a4a98"/></g><g transform="rotate(313.0)"><path d="M-5.5,-48.5 Q-2.6,-53 -2.4,-60.9 Q-3,-64.4 -7.6,-66.9 L7.6,-66.9 Q3,-64.4 2.4,-60.9 Q2.6,-53 5.5,-48.5 Z" fill="#6163ae"/><ellipse cx="0" cy="-66.9" rx="7.6" ry="3.6" fill="#6163ae"/><ellipse cx="0" cy="-67.3" rx="4.7" ry="1.7" fill="#4a4a98"/></g><g transform="rotate(335.5)"><path d="M-5.5,-48.5 Q-2.6,-53 -2.4,-54.9 Q-3,-58.4 -7.6,-60.9 L7.6,-60.9 Q3,-58.4 2.4,-54.9 Q2.6,-53 5.5,-48.5 Z" fill="#6163ae"/><ellipse cx="0" cy="-60.9" rx="7.6" ry="3.6" fill="#6163ae"/><ellipse cx="0" cy="-61.3" rx="4.7" ry="1.7" fill="#4a4a98"/></g><circle r="50" fill="#6163ae"/><ellipse cx="5" cy="-36.8" rx="6.2" ry="4.2" fill="#4a4a98" transform="rotate(10 5 -36.8)"/><ellipse cx="-16.4" cy="-20" rx="5.6" ry="4.2" fill="#4a4a98" transform="rotate(-30 -16.4 -20)"/><ellipse cx="-33" cy="-27" rx="3" ry="4" fill="#4a4a98" transform="rotate(20 -33 -27)"/><ellipse cx="33" cy="-20" rx="4.4" ry="7" fill="#4a4a98" transform="rotate(-10 33 -20)"/><ellipse cx="5" cy="-4" rx="6.3" ry="5.6" fill="#4a4a98" transform="rotate(0 5 -4)"/><ellipse cx="-38.8" cy="5" rx="4.3" ry="6.8" fill="#4a4a98" transform="rotate(-5 -38.8 5)"/><ellipse cx="-11.4" cy="9" rx="3.8" ry="2.6" fill="#4a4a98" transform="rotate(40 -11.4 9)"/><ellipse cx="41.5" cy="1.6" rx="2.4" ry="4" fill="#4a4a98" transform="rotate(0 41.5 1.6)"/><ellipse cx="24" cy="16.4" rx="7" ry="4.2" fill="#4a4a98" transform="rotate(-30 24 16.4)"/><ellipse cx="-18.3" cy="30.8" rx="7.5" ry="4.4" fill="#4a4a98" transform="rotate(20 -18.3 30.8)"/><ellipse cx="13.7" cy="38" rx="4.2" ry="2.6" fill="#4a4a98" transform="rotate(-10 13.7 38)"/><ellipse cx="-30" cy="-8" rx="2" ry="2.6" fill="#4a4a98" transform="rotate(0 -30 -8)"/><ellipse cx="28" cy="34" rx="2.6" ry="1.8" fill="#4a4a98" transform="rotate(-30 28 34)"/></g>
<g transform="translate(504.50,501.50) rotate(2) scale(0.4160)"><g transform="rotate(-2.0)"><path d="M-5.5,-48.5 Q-2.6,-53 -2.4,-59.9 Q-3,-63.4 -7.6,-65.9 L7.6,-65.9 Q3,-63.4 2.4,-59.9 Q2.6,-53 5.5,-48.5 Z" fill="#6163ae"/><ellipse cx="0" cy="-65.9" rx="7.6" ry="3.6" fill="#6163ae"/><ellipse cx="0" cy="-66.3" rx="4.7" ry="1.7" fill="#4a4a98"/></g><g transform="rotate(20.5)"><path d="M-5.5,-48.5 Q-2.6,-53 -2.4,-54.9 Q-3,-58.4 -7.6,-60.9 L7.6,-60.9 Q3,-58.4 2.4,-54.9 Q2.6,-53 5.5,-48.5 Z" fill="#6163ae"/><ellipse cx="0" cy="-60.9" rx="7.6" ry="3.6" fill="#6163ae"/><ellipse cx="0" cy="-61.3" rx="4.7" ry="1.7" fill="#4a4a98"/></g><g transform="rotate(43.0)"><path d="M-5.5,-48.5 Q-2.6,-53 -2.4,-60.9 Q-3,-64.4 -7.6,-66.9 L7.6,-66.9 Q3,-64.4 2.4,-60.9 Q2.6,-53 5.5,-48.5 Z" fill="#6163ae"/><ellipse cx="0" cy="-66.9" rx="7.6" ry="3.6" fill="#6163ae"/><ellipse cx="0" cy="-67.3" rx="4.7" ry="1.7" fill="#4a4a98"/></g><g transform="rotate(65.5)"><path d="M-5.5,-48.5 Q-2.6,-53 -2.4,-54.9 Q-3,-58.4 -7.6,-60.9 L7.6,-60.9 Q3,-58.4 2.4,-54.9 Q2.6,-53 5.5,-48.5 Z" fill="#6163ae"/><ellipse cx="0" cy="-60.9" rx="7.6" ry="3.6" fill="#6163ae"/><ellipse cx="0" cy="-61.3" rx="4.7" ry="1.7" fill="#4a4a98"/></g><g transform="rotate(88.0)"><path d="M-5.5,-48.5 Q-2.6,-53 -2.4,-59.9 Q-3,-63.4 -7.6,-65.9 L7.6,-65.9 Q3,-63.4 2.4,-59.9 Q2.6,-53 5.5,-48.5 Z" fill="#6163ae"/><ellipse cx="0" cy="-65.9" rx="7.6" ry="3.6" fill="#6163ae"/><ellipse cx="0" cy="-66.3" rx="4.7" ry="1.7" fill="#4a4a98"/></g><g transform="rotate(110.5)"><path d="M-5.5,-48.5 Q-2.6,-53 -2.4,-54.9 Q-3,-58.4 -7.6,-60.9 L7.6,-60.9 Q3,-58.4 2.4,-54.9 Q2.6,-53 5.5,-48.5 Z" fill="#6163ae"/><ellipse cx="0" cy="-60.9" rx="7.6" ry="3.6" fill="#6163ae"/><ellipse cx="0" cy="-61.3" rx="4.7" ry="1.7" fill="#4a4a98"/></g><g transform="rotate(133.0)"><path d="M-5.5,-48.5 Q-2.6,-53 -2.4,-60.9 Q-3,-64.4 -7.6,-66.9 L7.6,-66.9 Q3,-64.4 2.4,-60.9 Q2.6,-53 5.5,-48.5 Z" fill="#6163ae"/><ellipse cx="0" cy="-66.9" rx="7.6" ry="3.6" fill="#6163ae"/><ellipse cx="0" cy="-67.3" rx="4.7" ry="1.7" fill="#4a4a98"/></g><g transform="rotate(155.5)"><path d="M-5.5,-48.5 Q-2.6,-53 -2.4,-54.9 Q-3,-58.4 -7.6,-60.9 L7.6,-60.9 Q3,-58.4 2.4,-54.9 Q2.6,-53 5.5,-48.5 Z" fill="#6163ae"/><ellipse cx="0" cy="-60.9" rx="7.6" ry="3.6" fill="#6163ae"/><ellipse cx="0" cy="-61.3" rx="4.7" ry="1.7" fill="#4a4a98"/></g><g transform="rotate(178.0)"><path d="M-5.5,-48.5 Q-2.6,-53 -2.4,-58.2 Q-3,-61.7 -7.6,-64.2 L7.6,-64.2 Q3,-61.7 2.4,-58.2 Q2.6,-53 5.5,-48.5 Z" fill="#6163ae"/><ellipse cx="0" cy="-64.2" rx="7.6" ry="3.6" fill="#6163ae"/><ellipse cx="0" cy="-64.6" rx="4.7" ry="1.7" fill="#4a4a98"/></g><g transform="rotate(200.5)"><path d="M-5.5,-48.5 Q-2.6,-53 -2.4,-54.9 Q-3,-58.4 -7.6,-60.9 L7.6,-60.9 Q3,-58.4 2.4,-54.9 Q2.6,-53 5.5,-48.5 Z" fill="#6163ae"/><ellipse cx="0" cy="-60.9" rx="7.6" ry="3.6" fill="#6163ae"/><ellipse cx="0" cy="-61.3" rx="4.7" ry="1.7" fill="#4a4a98"/></g><g transform="rotate(223.0)"><path d="M-5.5,-48.5 Q-2.6,-53 -2.4,-60.9 Q-3,-64.4 -7.6,-66.9 L7.6,-66.9 Q3,-64.4 2.4,-60.9 Q2.6,-53 5.5,-48.5 Z" fill="#6163ae"/><ellipse cx="0" cy="-66.9" rx="7.6" ry="3.6" fill="#6163ae"/><ellipse cx="0" cy="-67.3" rx="4.7" ry="1.7" fill="#4a4a98"/></g><g transform="rotate(245.5)"><path d="M-5.5,-48.5 Q-2.6,-53 -2.4,-54.9 Q-3,-58.4 -7.6,-60.9 L7.6,-60.9 Q3,-58.4 2.4,-54.9 Q2.6,-53 5.5,-48.5 Z" fill="#6163ae"/><ellipse cx="0" cy="-60.9" rx="7.6" ry="3.6" fill="#6163ae"/><ellipse cx="0" cy="-61.3" rx="4.7" ry="1.7" fill="#4a4a98"/></g><g transform="rotate(268.0)"><path d="M-5.5,-48.5 Q-2.6,-53 -2.4,-59.9 Q-3,-63.4 -7.6,-65.9 L7.6,-65.9 Q3,-63.4 2.4,-59.9 Q2.6,-53 5.5,-48.5 Z" fill="#6163ae"/><ellipse cx="0" cy="-65.9" rx="7.6" ry="3.6" fill="#6163ae"/><ellipse cx="0" cy="-66.3" rx="4.7" ry="1.7" fill="#4a4a98"/></g><g transform="rotate(290.5)"><path d="M-5.5,-48.5 Q-2.6,-53 -2.4,-54.9 Q-3,-58.4 -7.6,-60.9 L7.6,-60.9 Q3,-58.4 2.4,-54.9 Q2.6,-53 5.5,-48.5 Z" fill="#6163ae"/><ellipse cx="0" cy="-60.9" rx="7.6" ry="3.6" fill="#6163ae"/><ellipse cx="0" cy="-61.3" rx="4.7" ry="1.7" fill="#4a4a98"/></g><g transform="rotate(313.0)"><path d="M-5.5,-48.5 Q-2.6,-53 -2.4,-60.9 Q-3,-64.4 -7.6,-66.9 L7.6,-66.9 Q3,-64.4 2.4,-60.9 Q2.6,-53 5.5,-48.5 Z" fill="#6163ae"/><ellipse cx="0" cy="-66.9" rx="7.6" ry="3.6" fill="#6163ae"/><ellipse cx="0" cy="-67.3" rx="4.7" ry="1.7" fill="#4a4a98"/></g><g transform="rotate(335.5)"><path d="M-5.5,-48.5 Q-2.6,-53 -2.4,-54.9 Q-3,-58.4 -7.6,-60.9 L7.6,-60.9 Q3,-58.4 2.4,-54.9 Q2.6,-53 5.5,-48.5 Z" fill="#6163ae"/><ellipse cx="0" cy="-60.9" rx="7.6" ry="3.6" fill="#6163ae"/><ellipse cx="0" cy="-61.3" rx="4.7" ry="1.7" fill="#4a4a98"/></g><circle r="50" fill="#6163ae"/><ellipse cx="5" cy="-36.8" rx="6.2" ry="4.2" fill="#4a4a98" transform="rotate(10 5 -36.8)"/><ellipse cx="-16.4" cy="-20" rx="5.6" ry="4.2" fill="#4a4a98" transform="rotate(-30 -16.4 -20)"/><ellipse cx="-33" cy="-27" rx="3" ry="4" fill="#4a4a98" transform="rotate(20 -33 -27)"/><ellipse cx="33" cy="-20" rx="4.4" ry="7" fill="#4a4a98" transform="rotate(-10 33 -20)"/><ellipse cx="5" cy="-4" rx="6.3" ry="5.6" fill="#4a4a98" transform="rotate(0 5 -4)"/><ellipse cx="-38.8" cy="5" rx="4.3" ry="6.8" fill="#4a4a98" transform="rotate(-5 -38.8 5)"/><ellipse cx="-11.4" cy="9" rx="3.8" ry="2.6" fill="#4a4a98" transform="rotate(40 -11.4 9)"/><ellipse cx="41.5" cy="1.6" rx="2.4" ry="4" fill="#4a4a98" transform="rotate(0 41.5 1.6)"/><ellipse cx="24" cy="16.4" rx="7" ry="4.2" fill="#4a4a98" transform="rotate(-30 24 16.4)"/><ellipse cx="-18.3" cy="30.8" rx="7.5" ry="4.4" fill="#4a4a98" transform="rotate(20 -18.3 30.8)"/><ellipse cx="13.7" cy="38" rx="4.2" ry="2.6" fill="#4a4a98" transform="rotate(-10 13.7 38)"/><ellipse cx="-30" cy="-8" rx="2" ry="2.6" fill="#4a4a98" transform="rotate(0 -30 -8)"/><ellipse cx="28" cy="34" rx="2.6" ry="1.8" fill="#4a4a98" transform="rotate(-30 28 34)"/></g>
<path d="M0,657 L0,701 L60,701 Z" fill="#2b2378"/>
<path d="M1024,641 L1024,701 L979,701 Z" fill="#2b2378"/>
<defs><linearGradient id="gb" x1="0" y1="0" x2="0" y2="1"><stop offset="0" stop-color="#4068bd"/><stop offset="1" stop-color="#2b4f9e"/></linearGradient><linearGradient id="gl" x1="0" y1="0" x2="0" y2="1"><stop offset="0" stop-color="#a3b1de"/><stop offset="1" stop-color="#8195cf"/></linearGradient><linearGradient id="gg" x1="0" y1="0" x2="0" y2="1"><stop offset="0" stop-color="#5a9a3c"/><stop offset="1" stop-color="#4a8530"/></linearGradient><linearGradient id="gh" x1="0" y1="0" x2="0" y2="1"><stop offset="0" stop-color="#a8cc98"/><stop offset="1" stop-color="#98c088"/></linearGradient></defs>
<rect x="106" y="528.3" width="338" height="10" fill="#fff"/>
<rect x="591" y="529" width="335" height="10" fill="#fff"/>
<text x="158.20" y="545.90" font-size="12.94" font-weight="bold" fill="#3a4466" textLength="231.80" lengthAdjust="spacingAndGlyphs" >ESTADÍSTICAS CASOS CON COVID ISM</text>
<text x="231.80" y="562.00" font-size="12.94" font-weight="bold" fill="#3a4466" textLength="84.60" lengthAdjust="spacingAndGlyphs" >ESTUDIANTES</text>
<path d="M127.6,650.30 L433.6,650.30" stroke="#e4e4e4" stroke-width="0.8"/>
<text x="120.3" y="653.00" font-size="7.4" fill="#5a5a5a" text-anchor="end">0</text>
<path d="M127.6,631.50 L433.6,631.50" stroke="#e4e4e4" stroke-width="0.8"/>
<text x="120.3" y="634.20" font-size="7.4" fill="#5a5a5a" text-anchor="end">5</text>
<path d="M127.6,612.70 L433.6,612.70" stroke="#e4e4e4" stroke-width="0.8"/>
<text x="120.3" y="615.40" font-size="7.4" fill="#5a5a5a" text-anchor="end">10</text>
<path d="M127.6,593.90 L433.6,593.90" stroke="#e4e4e4" stroke-width="0.8"/>
<text x="120.3" y="596.60" font-size="7.4" fill="#5a5a5a" text-anchor="end">15</text>
<path d="M127.6,575.10 L433.6,575.10" stroke="#e4e4e4" stroke-width="0.8"/>
<text x="120.3" y="577.80" font-size="7.4" fill="#5a5a5a" text-anchor="end">20</text>
<rect x="135.20" y="635.26" width="16.2" height="15.04" fill="url(#gb)"/>
<text x="143.30" y="645.46" font-size="7.20" font-weight="normal" fill="#2a3f7a" text-anchor="middle" >4</text>
<text x="163.10" y="645.10" font-size="7.20" font-weight="normal" fill="#555" text-anchor="middle" >0</text>
<rect x="186.20" y="578.86" width="16.2" height="71.44" fill="url(#gb)"/>
<text x="194.30" y="589.06" font-size="7.20" font-weight="normal" fill="#2a3f7a" text-anchor="middle" >19</text>
<rect x="206.10" y="605.18" width="16" height="45.12" fill="url(#gl)"/>
<text x="214.10" y="615.38" font-size="7.20" font-weight="normal" fill="#3d4a78" text-anchor="middle" >12</text>
<rect x="237.20" y="635.26" width="16.2" height="15.04" fill="url(#gb)"/>
<text x="245.30" y="645.46" font-size="7.20" font-weight="normal" fill="#2a3f7a" text-anchor="middle" >4</text>
<text x="265.10" y="645.10" font-size="7.20" font-weight="normal" fill="#555" text-anchor="middle" >0</text>
<rect x="288.20" y="578.86" width="16.2" height="71.44" fill="url(#gb)"/>
<text x="296.30" y="589.06" font-size="7.20" font-weight="normal" fill="#2a3f7a" text-anchor="middle" >19</text>
<rect x="308.10" y="605.18" width="16" height="45.12" fill="url(#gl)"/>
<text x="316.10" y="615.38" font-size="7.20" font-weight="normal" fill="#3d4a78" text-anchor="middle" >12</text>
<text x="347.30" y="645.10" font-size="7.20" font-weight="normal" fill="#555" text-anchor="middle" >0</text>
<text x="367.10" y="645.10" font-size="7.20" font-weight="normal" fill="#555" text-anchor="middle" >0</text>
<text x="398.30" y="645.10" font-size="7.20" font-weight="normal" fill="#555" text-anchor="middle" >0</text>
<text x="418.10" y="645.10" font-size="7.20" font-weight="normal" fill="#555" text-anchor="middle" >0</text>
<text x="152.30" y="660.80" font-size="6.40" font-weight="normal" fill="#5a5a5a" text-anchor="middle" textLength="19.80" lengthAdjust="spacingAndGlyphs" >CASOS</text>
<text x="152.30" y="668.95" font-size="6.40" font-weight="normal" fill="#5a5a5a" text-anchor="middle" textLength="44.50" lengthAdjust="spacingAndGlyphs" >SOSPECHOSOS</text>
<text x="152.30" y="677.10" font-size="6.40" font-weight="normal" fill="#5a5a5a" text-anchor="middle" textLength="39.00" lengthAdjust="spacingAndGlyphs" >DE COVID-19</text>
<text x="203.30" y="660.80" font-size="6.40" font-weight="normal" fill="#5a5a5a" text-anchor="middle" textLength="19.80" lengthAdjust="spacingAndGlyphs" >CASOS</text>
<text x="203.30" y="668.95" font-size="6.40" font-weight="normal" fill="#5a5a5a" text-anchor="middle" textLength="42.50" lengthAdjust="spacingAndGlyphs" >POSITIVOS DE</text>
<text x="203.30" y="677.10" font-size="6.40" font-weight="normal" fill="#5a5a5a" text-anchor="middle" textLength="29.50" lengthAdjust="spacingAndGlyphs" >COVID-19</text>
<text x="254.30" y="660.80" font-size="6.40" font-weight="normal" fill="#5a5a5a" text-anchor="middle" textLength="30.10" lengthAdjust="spacingAndGlyphs" >CASOS EN</text>
<text x="254.30" y="668.95" font-size="6.40" font-weight="normal" fill="#5a5a5a" text-anchor="middle" textLength="42.00" lengthAdjust="spacingAndGlyphs" >AISLAMIENTO</text>
<text x="254.30" y="677.10" font-size="6.40" font-weight="normal" fill="#5a5a5a" text-anchor="middle" textLength="48.50" lengthAdjust="spacingAndGlyphs" >POR CONTACTO</text>
<text x="305.30" y="660.80" font-size="6.40" font-weight="normal" fill="#5a5a5a" text-anchor="middle" textLength="19.80" lengthAdjust="spacingAndGlyphs" >CASOS</text>
<text x="305.30" y="668.95" font-size="6.40" font-weight="normal" fill="#5a5a5a" text-anchor="middle" textLength="45.50" lengthAdjust="spacingAndGlyphs" >RECUPERADOS</text>
<text x="356.30" y="660.80" font-size="6.40" font-weight="normal" fill="#5a5a5a" text-anchor="middle" textLength="19.80" lengthAdjust="spacingAndGlyphs" >CASOS</text>
<text x="356.30" y="668.95" font-size="6.40" font-weight="normal" fill="#5a5a5a" text-anchor="middle" textLength="44.50" lengthAdjust="spacingAndGlyphs" >DESCARTADOS</text>
<text x="407.30" y="660.80" font-size="6.40" font-weight="normal" fill="#5a5a5a" text-anchor="middle" textLength="36.60" lengthAdjust="spacingAndGlyphs" >FALLECIDOS</text>
<rect x="205.4" y="688.4" width="4.6" height="4.6" fill="#2f55a5"/>
<text x="212.20" y="693.20" font-size="7.27" font-weight="normal" fill="#5a5a5a" textLength="55.50" lengthAdjust="spacingAndGlyphs" >ESTUDIANTES IA</text>
<rect x="280.6" y="688.4" width="4.6" height="4.6" fill="#8fa1d5"/>
<text x="286.80" y="693.20" font-size="7.27" font-weight="normal" fill="#5a5a5a" textLength="59.70" lengthAdjust="spacingAndGlyphs" >ESTUDIANTES AQ</text>
<text x="625.90" y="548.90" font-size="13.52" font-weight="bold" fill="#4c4c4c" textLength="263.30" lengthAdjust="spacingAndGlyphs" >ESTADÍSTICAS CASOS CON COVID ISM</text>
<text x="694.20" y="566.40" font-size="13.52" font-weight="bold" fill="#4c4c4c" textLength="126.00" lengthAdjust="spacingAndGlyphs" >COLABORADORES</text>
<path d="M608.8,651.00 L918,651.00" stroke="#e2e2e2" stroke-width="0.8"/>
<text x="601.5" y="653.40" font-size="7.2" fill="#5a5a5a" text-anchor="end">0</text>
<path d="M608.8,639.20 L918,639.20" stroke="#e2e2e2" stroke-width="0.8"/>
<text x="601.5" y="641.60" font-size="7.2" fill="#5a5a5a" text-anchor="end">2</text>
<path d="M608.8,627.40 L918,627.40" stroke="#e2e2e2" stroke-width="0.8"/>
<text x="601.5" y="629.80" font-size="7.2" fill="#5a5a5a" text-anchor="end">4</text>
<path d="M608.8,615.60 L918,615.60" stroke="#e2e2e2" stroke-width="0.8"/>
<text x="601.5" y="618.00" font-size="7.2" fill="#5a5a5a" text-anchor="end">6</text>
<path d="M608.8,603.80 L918,603.80" stroke="#e2e2e2" stroke-width="0.8"/>
<text x="601.5" y="606.20" font-size="7.2" fill="#5a5a5a" text-anchor="end">8</text>
<path d="M608.8,592.00 L918,592.00" stroke="#e2e2e2" stroke-width="0.8"/>
<text x="601.5" y="594.40" font-size="7.2" fill="#5a5a5a" text-anchor="end">10</text>
<path d="M608.8,580.20 L918,580.20" stroke="#e2e2e2" stroke-width="0.8"/>
<text x="601.5" y="582.60" font-size="7.2" fill="#5a5a5a" text-anchor="end">12</text>
<rect x="621.90" y="645.10" width="11.4" height="5.90" fill="url(#gg)"/>
<rect x="637.20" y="586.10" width="11.3" height="64.90" fill="url(#gh)"/>
<text x="642.80" y="580.80" font-size="7.00" font-weight="bold" fill="#444" text-anchor="middle" >11</text>
<rect x="673.35" y="621.50" width="11.4" height="29.50" fill="url(#gg)"/>
<rect x="688.65" y="633.30" width="11.3" height="17.70" fill="url(#gh)"/>
<text x="694.25" y="628.00" font-size="7.00" font-weight="bold" fill="#444" text-anchor="middle" >3</text>
<rect x="740.10" y="633.30" width="11.3" height="17.70" fill="url(#gh)"/>
<text x="745.70" y="628.00" font-size="7.00" font-weight="bold" fill="#444" text-anchor="middle" >3</text>
<rect x="776.25" y="621.50" width="11.4" height="29.50" fill="url(#gg)"/>
<rect x="791.55" y="633.30" width="11.3" height="17.70" fill="url(#gh)"/>
<text x="797.15" y="628.00" font-size="7.00" font-weight="bold" fill="#444" text-anchor="middle" >3</text>
<rect x="827.70" y="645.10" width="11.4" height="5.90" fill="url(#gg)"/>
<rect x="843.00" y="603.80" width="11.3" height="47.20" fill="url(#gh)"/>
<text x="848.60" y="598.50" font-size="7.00" font-weight="bold" fill="#444" text-anchor="middle" >8</text>
<text x="900.05" y="645.70" font-size="7.00" font-weight="bold" fill="#444" text-anchor="middle" >0</text>
<text x="633.92" y="660.40" font-size="6.40" font-weight="normal" fill="#5a5a5a" text-anchor="middle" textLength="19.80" lengthAdjust="spacingAndGlyphs" >CASOS</text>
<text x="633.92" y="668.55" font-size="6.40" font-weight="normal" fill="#5a5a5a" text-anchor="middle" textLength="44.50" lengthAdjust="spacingAndGlyphs" >SOSPECHOSOS</text>
<text x="633.92" y="676.70" font-size="6.40" font-weight="normal" fill="#5a5a5a" text-anchor="middle" textLength="39.00" lengthAdjust="spacingAndGlyphs" >DE COVID-19</text>
<text x="685.37" y="660.40" font-size="6.40" font-weight="normal" fill="#5a5a5a" text-anchor="middle" textLength="19.80" lengthAdjust="spacingAndGlyphs" >CASOS</text>
<text x="685.37" y="668.55" font-size="6.40" font-weight="normal" fill="#5a5a5a" text-anchor="middle" textLength="42.50" lengthAdjust="spacingAndGlyphs" >POSITIVOS DE</text>
<text x="685.37" y="676.70" font-size="6.40" font-weight="normal" fill="#5a5a5a" text-anchor="middle" textLength="29.50" lengthAdjust="spacingAndGlyphs" >COVID-19</text>
<text x="736.82" y="660.40" font-size="6.40" font-weight="normal" fill="#5a5a5a" text-anchor="middle" textLength="30.10" lengthAdjust="spacingAndGlyphs" >CASOS EN</text>
<text x="736.82" y="668.55" font-size="6.40" font-weight="normal" fill="#5a5a5a" text-anchor="middle" textLength="42.00" lengthAdjust="spacingAndGlyphs" >AISLAMIENTO</text>
<text x="736.82" y="676.70" font-size="6.40" font-weight="normal" fill="#5a5a5a" text-anchor="middle" textLength="48.50" lengthAdjust="spacingAndGlyphs" >POR CONTACTO</text>
<text x="788.27" y="660.40" font-size="6.40" font-weight="normal" fill="#5a5a5a" text-anchor="middle" textLength="19.80" lengthAdjust="spacingAndGlyphs" >CASOS</text>
<text x="788.27" y="668.55" font-size="6.40" font-weight="normal" fill="#5a5a5a" text-anchor="middle" textLength="45.50" lengthAdjust="spacingAndGlyphs" >RECUPERADOS</text>
<text x="839.72" y="660.40" font-size="6.40" font-weight="normal" fill="#5a5a5a" text-anchor="middle" textLength="19.80" lengthAdjust="spacingAndGlyphs" >CASOS</text>
<text x="839.72" y="668.55" font-size="6.40" font-weight="normal" fill="#5a5a5a" text-anchor="middle" textLength="44.50" lengthAdjust="spacingAndGlyphs" >DESCARTADOS</text>
<text x="891.17" y="660.40" font-size="6.40" font-weight="normal" fill="#5a5a5a" text-anchor="middle" textLength="36.60" lengthAdjust="spacingAndGlyphs" >FALLECIDOS</text>
<rect x="672.3" y="687.6" width="4.4" height="4.4" fill="#4f8c33"/>
<text x="677.90" y="692.40" font-size="7.27" font-weight="normal" fill="#5a5a5a" textLength="72.70" lengthAdjust="spacingAndGlyphs" >COLABORADORES  IA</text>
<rect x="766.4" y="687.6" width="4.4" height="4.4" fill="#9cc58c"/>
<text x="771.50" y="692.40" font-size="7.27" font-weight="normal" fill="#5a5a5a" textLength="75.10" lengthAdjust="spacingAndGlyphs" >COLABORADORES AQ</text>
</svg>
</body></html>
